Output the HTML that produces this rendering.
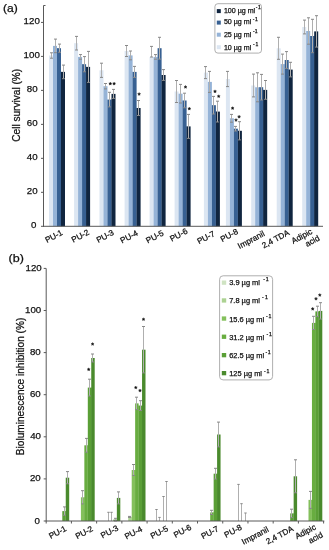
<!DOCTYPE html>
<html><head><meta charset="utf-8"><title>Figure</title>
<style>
html,body{margin:0;padding:0;background:#fff;}
body{width:329px;height:550px;overflow:hidden;}
svg{display:block;}
text{fill:#111;font-family:"Liberation Sans", Arial, sans-serif;stroke:#111;stroke-width:0.25px;}
</style></head>
<body>
<svg width="329" height="550" viewBox="0 0 329 550">
<rect x="0" y="0" width="329" height="550" fill="#fff"/>
<rect x="49" y="55.5" width="4" height="170.8" fill="#dce6f2"/>
<rect x="53" y="55.5" width="0.7" height="170.8" fill="#dce6f2"/>
<rect x="53" y="45.9" width="4" height="180.4" fill="#95b3d7"/>
<rect x="57" y="48.2" width="0.7" height="178.1" fill="#95b3d7"/>
<rect x="57" y="48.2" width="4" height="178.1" fill="#376092"/>
<rect x="61" y="71.9" width="0.7" height="154.4" fill="#376092"/>
<rect x="61" y="71.9" width="4" height="154.4" fill="#10253f"/>
<line x1="51.5" y1="52.8" x2="51.5" y2="58.2" stroke="#afafaf" stroke-width="1"/><line x1="50" y1="52.8" x2="53" y2="52.8" stroke="#888888" stroke-width="1"/><line x1="50" y1="58.2" x2="53" y2="58.2" stroke="#888888" stroke-width="1"/>
<line x1="55.5" y1="39.1" x2="55.5" y2="52.7" stroke="#afafaf" stroke-width="1"/><line x1="54" y1="39.1" x2="57" y2="39.1" stroke="#888888" stroke-width="1"/><line x1="54" y1="52.7" x2="57" y2="52.7" stroke="#888888" stroke-width="1"/>
<line x1="59.5" y1="44.1" x2="59.5" y2="52.3" stroke="#afafaf" stroke-width="1"/><line x1="58" y1="44.1" x2="61" y2="44.1" stroke="#888888" stroke-width="1"/><line x1="58" y1="52.3" x2="61" y2="52.3" stroke="#888888" stroke-width="1"/>
<line x1="63.5" y1="65.1" x2="63.5" y2="78.7" stroke="#afafaf" stroke-width="1"/><line x1="62" y1="65.1" x2="65" y2="65.1" stroke="#888888" stroke-width="1"/><line x1="62" y1="78.7" x2="65" y2="78.7" stroke="#888888" stroke-width="1"/>
<rect x="74.1" y="43.2" width="4" height="183.1" fill="#dce6f2"/>
<rect x="78.1" y="56.9" width="0.7" height="169.4" fill="#dce6f2"/>
<rect x="78.1" y="56.9" width="4" height="169.4" fill="#95b3d7"/>
<rect x="82.1" y="64.2" width="0.7" height="162.1" fill="#95b3d7"/>
<rect x="82.1" y="64.2" width="4" height="162.1" fill="#376092"/>
<rect x="86.1" y="66.9" width="0.7" height="159.4" fill="#376092"/>
<rect x="86.1" y="66.9" width="4" height="159.4" fill="#10253f"/>
<line x1="76.5" y1="36.4" x2="76.5" y2="50" stroke="#afafaf" stroke-width="1"/><line x1="75" y1="36.4" x2="78" y2="36.4" stroke="#888888" stroke-width="1"/><line x1="75" y1="50" x2="78" y2="50" stroke="#888888" stroke-width="1"/>
<line x1="80.5" y1="54.6" x2="80.5" y2="59.2" stroke="#afafaf" stroke-width="1"/><line x1="79" y1="54.6" x2="82" y2="54.6" stroke="#888888" stroke-width="1"/><line x1="79" y1="59.2" x2="82" y2="59.2" stroke="#888888" stroke-width="1"/>
<line x1="84.5" y1="56.6" x2="84.5" y2="71.8" stroke="#afafaf" stroke-width="1"/><line x1="83" y1="56.6" x2="86" y2="56.6" stroke="#888888" stroke-width="1"/><line x1="83" y1="71.8" x2="86" y2="71.8" stroke="#888888" stroke-width="1"/>
<line x1="88.5" y1="51.4" x2="88.5" y2="82.4" stroke="#afafaf" stroke-width="1"/><line x1="87" y1="51.4" x2="90" y2="51.4" stroke="#888888" stroke-width="1"/><line x1="87" y1="82.4" x2="90" y2="82.4" stroke="#888888" stroke-width="1"/>
<rect x="99.5" y="70.3" width="4" height="156" fill="#dce6f2"/>
<rect x="103.5" y="86.2" width="0.7" height="140.1" fill="#dce6f2"/>
<rect x="103.5" y="86.2" width="4" height="140.1" fill="#95b3d7"/>
<rect x="107.5" y="99.6" width="0.7" height="126.7" fill="#95b3d7"/>
<rect x="107.5" y="99.6" width="4" height="126.7" fill="#376092"/>
<rect x="111.5" y="99.6" width="0.7" height="126.7" fill="#376092"/>
<rect x="111.5" y="93.9" width="4" height="132.4" fill="#10253f"/>
<line x1="101.5" y1="63.2" x2="101.5" y2="77.4" stroke="#afafaf" stroke-width="1"/><line x1="100" y1="63.2" x2="103" y2="63.2" stroke="#888888" stroke-width="1"/><line x1="100" y1="77.4" x2="103" y2="77.4" stroke="#888888" stroke-width="1"/>
<line x1="105.5" y1="83.5" x2="105.5" y2="88.9" stroke="#afafaf" stroke-width="1"/><line x1="104" y1="83.5" x2="107" y2="83.5" stroke="#888888" stroke-width="1"/><line x1="104" y1="88.9" x2="107" y2="88.9" stroke="#888888" stroke-width="1"/>
<line x1="109.5" y1="92.3" x2="109.5" y2="106.9" stroke="#afafaf" stroke-width="1"/><line x1="108" y1="92.3" x2="111" y2="92.3" stroke="#888888" stroke-width="1"/><line x1="108" y1="106.9" x2="111" y2="106.9" stroke="#888888" stroke-width="1"/>
<line x1="113.5" y1="89.4" x2="113.5" y2="98.4" stroke="#afafaf" stroke-width="1"/><line x1="112" y1="89.4" x2="115" y2="89.4" stroke="#888888" stroke-width="1"/><line x1="112" y1="98.4" x2="115" y2="98.4" stroke="#888888" stroke-width="1"/>
<rect x="124.6" y="51" width="4" height="175.3" fill="#dce6f2"/>
<rect x="128.6" y="55.4" width="0.7" height="170.9" fill="#dce6f2"/>
<rect x="128.6" y="55.4" width="4" height="170.9" fill="#95b3d7"/>
<rect x="132.6" y="71.9" width="0.7" height="154.4" fill="#95b3d7"/>
<rect x="132.6" y="71.9" width="4" height="154.4" fill="#376092"/>
<rect x="136.6" y="108" width="0.7" height="118.3" fill="#376092"/>
<rect x="136.6" y="108" width="4" height="118.3" fill="#10253f"/>
<line x1="126.5" y1="45.5" x2="126.5" y2="56.5" stroke="#afafaf" stroke-width="1"/><line x1="125" y1="45.5" x2="128" y2="45.5" stroke="#888888" stroke-width="1"/><line x1="125" y1="56.5" x2="128" y2="56.5" stroke="#888888" stroke-width="1"/>
<line x1="130.5" y1="51" x2="130.5" y2="59.8" stroke="#afafaf" stroke-width="1"/><line x1="129" y1="51" x2="132" y2="51" stroke="#888888" stroke-width="1"/><line x1="129" y1="59.8" x2="132" y2="59.8" stroke="#888888" stroke-width="1"/>
<line x1="134.5" y1="66.4" x2="134.5" y2="77.4" stroke="#afafaf" stroke-width="1"/><line x1="133" y1="66.4" x2="136" y2="66.4" stroke="#888888" stroke-width="1"/><line x1="133" y1="77.4" x2="136" y2="77.4" stroke="#888888" stroke-width="1"/>
<line x1="138.5" y1="100.5" x2="138.5" y2="115.5" stroke="#afafaf" stroke-width="1"/><line x1="137" y1="100.5" x2="140" y2="100.5" stroke="#888888" stroke-width="1"/><line x1="137" y1="115.5" x2="140" y2="115.5" stroke="#888888" stroke-width="1"/>
<rect x="149.6" y="57" width="4" height="169.3" fill="#dce6f2"/>
<rect x="153.6" y="57" width="0.7" height="169.3" fill="#dce6f2"/>
<rect x="153.6" y="56.9" width="4" height="169.4" fill="#95b3d7"/>
<rect x="157.6" y="56.9" width="0.7" height="169.4" fill="#95b3d7"/>
<rect x="157.6" y="48.2" width="4" height="178.1" fill="#376092"/>
<rect x="161.6" y="75" width="0.7" height="151.3" fill="#376092"/>
<rect x="161.6" y="75" width="4" height="151.3" fill="#10253f"/>
<line x1="151.5" y1="46.4" x2="151.5" y2="57" stroke="#afafaf" stroke-width="1"/><line x1="150" y1="46.4" x2="153" y2="46.4" stroke="#888888" stroke-width="1"/><line x1="150" y1="57" x2="153" y2="57" stroke="#888888" stroke-width="1"/>
<line x1="155.5" y1="54.6" x2="155.5" y2="59.2" stroke="#afafaf" stroke-width="1"/><line x1="154" y1="54.6" x2="157" y2="54.6" stroke="#888888" stroke-width="1"/><line x1="154" y1="59.2" x2="157" y2="59.2" stroke="#888888" stroke-width="1"/>
<line x1="159.5" y1="37.3" x2="159.5" y2="59.1" stroke="#afafaf" stroke-width="1"/><line x1="158" y1="37.3" x2="161" y2="37.3" stroke="#888888" stroke-width="1"/><line x1="158" y1="59.1" x2="161" y2="59.1" stroke="#888888" stroke-width="1"/>
<line x1="163.5" y1="69.6" x2="163.5" y2="80.4" stroke="#afafaf" stroke-width="1"/><line x1="162" y1="69.6" x2="165" y2="69.6" stroke="#888888" stroke-width="1"/><line x1="162" y1="80.4" x2="165" y2="80.4" stroke="#888888" stroke-width="1"/>
<rect x="174.6" y="91.5" width="4" height="134.8" fill="#dce6f2"/>
<rect x="178.6" y="93.7" width="0.7" height="132.6" fill="#dce6f2"/>
<rect x="178.6" y="93.7" width="4" height="132.6" fill="#95b3d7"/>
<rect x="182.6" y="100.5" width="0.7" height="125.8" fill="#95b3d7"/>
<rect x="182.6" y="100.5" width="4" height="125.8" fill="#376092"/>
<rect x="186.6" y="126.4" width="0.7" height="99.9" fill="#376092"/>
<rect x="186.6" y="126.4" width="4" height="99.9" fill="#10253f"/>
<line x1="176.5" y1="80.5" x2="176.5" y2="102.5" stroke="#afafaf" stroke-width="1"/><line x1="175" y1="80.5" x2="178" y2="80.5" stroke="#888888" stroke-width="1"/><line x1="175" y1="102.5" x2="178" y2="102.5" stroke="#888888" stroke-width="1"/>
<line x1="180.5" y1="84.4" x2="180.5" y2="103" stroke="#afafaf" stroke-width="1"/><line x1="179" y1="84.4" x2="182" y2="84.4" stroke="#888888" stroke-width="1"/><line x1="179" y1="103" x2="182" y2="103" stroke="#888888" stroke-width="1"/>
<line x1="184.5" y1="93.2" x2="184.5" y2="107.8" stroke="#afafaf" stroke-width="1"/><line x1="183" y1="93.2" x2="186" y2="93.2" stroke="#888888" stroke-width="1"/><line x1="183" y1="107.8" x2="186" y2="107.8" stroke="#888888" stroke-width="1"/>
<line x1="188.5" y1="114.4" x2="188.5" y2="138.4" stroke="#afafaf" stroke-width="1"/><line x1="187" y1="114.4" x2="190" y2="114.4" stroke="#888888" stroke-width="1"/><line x1="187" y1="138.4" x2="190" y2="138.4" stroke="#888888" stroke-width="1"/>
<rect x="203.9" y="72.6" width="4" height="153.7" fill="#dce6f2"/>
<rect x="207.9" y="81.9" width="0.7" height="144.4" fill="#dce6f2"/>
<rect x="207.9" y="81.9" width="4" height="144.4" fill="#95b3d7"/>
<rect x="211.9" y="105.2" width="0.7" height="121.1" fill="#95b3d7"/>
<rect x="211.9" y="105.2" width="4" height="121.1" fill="#376092"/>
<rect x="215.9" y="111.6" width="0.7" height="114.7" fill="#376092"/>
<rect x="215.9" y="111.6" width="4" height="114.7" fill="#10253f"/>
<line x1="205.5" y1="66.6" x2="205.5" y2="78.6" stroke="#afafaf" stroke-width="1"/><line x1="204" y1="66.6" x2="207" y2="66.6" stroke="#888888" stroke-width="1"/><line x1="204" y1="78.6" x2="207" y2="78.6" stroke="#888888" stroke-width="1"/>
<line x1="209.5" y1="71.4" x2="209.5" y2="92.4" stroke="#afafaf" stroke-width="1"/><line x1="208" y1="71.4" x2="211" y2="71.4" stroke="#888888" stroke-width="1"/><line x1="208" y1="92.4" x2="211" y2="92.4" stroke="#888888" stroke-width="1"/>
<line x1="213.5" y1="96.4" x2="213.5" y2="114" stroke="#afafaf" stroke-width="1"/><line x1="212" y1="96.4" x2="215" y2="96.4" stroke="#888888" stroke-width="1"/><line x1="212" y1="114" x2="215" y2="114" stroke="#888888" stroke-width="1"/>
<line x1="217.5" y1="101.2" x2="217.5" y2="122" stroke="#afafaf" stroke-width="1"/><line x1="216" y1="101.2" x2="219" y2="101.2" stroke="#888888" stroke-width="1"/><line x1="216" y1="122" x2="219" y2="122" stroke="#888888" stroke-width="1"/>
<rect x="225.9" y="79" width="4" height="147.3" fill="#dce6f2"/>
<rect x="229.9" y="118.3" width="0.7" height="108" fill="#dce6f2"/>
<rect x="229.9" y="118.3" width="4" height="108" fill="#95b3d7"/>
<rect x="233.9" y="128.7" width="0.7" height="97.6" fill="#95b3d7"/>
<rect x="233.9" y="128.7" width="4" height="97.6" fill="#376092"/>
<rect x="237.9" y="130.8" width="0.7" height="95.5" fill="#376092"/>
<rect x="237.9" y="130.8" width="4" height="95.5" fill="#10253f"/>
<line x1="227.5" y1="71.4" x2="227.5" y2="86.6" stroke="#afafaf" stroke-width="1"/><line x1="226" y1="71.4" x2="229" y2="71.4" stroke="#888888" stroke-width="1"/><line x1="226" y1="86.6" x2="229" y2="86.6" stroke="#888888" stroke-width="1"/>
<line x1="231.5" y1="114.4" x2="231.5" y2="122.2" stroke="#afafaf" stroke-width="1"/><line x1="230" y1="114.4" x2="233" y2="114.4" stroke="#888888" stroke-width="1"/><line x1="230" y1="122.2" x2="233" y2="122.2" stroke="#888888" stroke-width="1"/>
<line x1="235.5" y1="126.4" x2="235.5" y2="131" stroke="#afafaf" stroke-width="1"/><line x1="234" y1="126.4" x2="237" y2="126.4" stroke="#888888" stroke-width="1"/><line x1="234" y1="131" x2="237" y2="131" stroke="#888888" stroke-width="1"/>
<line x1="239.5" y1="121.7" x2="239.5" y2="139.9" stroke="#afafaf" stroke-width="1"/><line x1="238" y1="121.7" x2="241" y2="121.7" stroke="#888888" stroke-width="1"/><line x1="238" y1="139.9" x2="241" y2="139.9" stroke="#888888" stroke-width="1"/>
<rect x="251.2" y="85.5" width="4" height="140.8" fill="#dce6f2"/>
<rect x="255.2" y="87.3" width="0.7" height="139" fill="#dce6f2"/>
<rect x="255.2" y="87.3" width="4" height="139" fill="#95b3d7"/>
<rect x="259.2" y="87.3" width="0.7" height="139" fill="#95b3d7"/>
<rect x="259.2" y="87.2" width="4" height="139.1" fill="#376092"/>
<rect x="263.2" y="89.9" width="0.7" height="136.4" fill="#376092"/>
<rect x="263.2" y="89.9" width="4" height="136.4" fill="#10253f"/>
<line x1="253.5" y1="74.1" x2="253.5" y2="96.9" stroke="#afafaf" stroke-width="1"/><line x1="252" y1="74.1" x2="255" y2="74.1" stroke="#888888" stroke-width="1"/><line x1="252" y1="96.9" x2="255" y2="96.9" stroke="#888888" stroke-width="1"/>
<line x1="257.5" y1="72.8" x2="257.5" y2="101.8" stroke="#afafaf" stroke-width="1"/><line x1="256" y1="72.8" x2="259" y2="72.8" stroke="#888888" stroke-width="1"/><line x1="256" y1="101.8" x2="259" y2="101.8" stroke="#888888" stroke-width="1"/>
<line x1="261.5" y1="74.4" x2="261.5" y2="100" stroke="#afafaf" stroke-width="1"/><line x1="260" y1="74.4" x2="263" y2="74.4" stroke="#888888" stroke-width="1"/><line x1="260" y1="100" x2="263" y2="100" stroke="#888888" stroke-width="1"/>
<line x1="265.5" y1="80.5" x2="265.5" y2="99.3" stroke="#afafaf" stroke-width="1"/><line x1="264" y1="80.5" x2="267" y2="80.5" stroke="#888888" stroke-width="1"/><line x1="264" y1="99.3" x2="267" y2="99.3" stroke="#888888" stroke-width="1"/>
<rect x="276.7" y="48.3" width="4" height="178" fill="#dce6f2"/>
<rect x="280.7" y="64.1" width="0.7" height="162.2" fill="#dce6f2"/>
<rect x="280.7" y="64.1" width="4" height="162.2" fill="#95b3d7"/>
<rect x="284.7" y="64.1" width="0.7" height="162.2" fill="#95b3d7"/>
<rect x="284.7" y="60" width="4" height="166.3" fill="#376092"/>
<rect x="288.7" y="69.6" width="0.7" height="156.7" fill="#376092"/>
<rect x="288.7" y="69.6" width="4" height="156.7" fill="#10253f"/>
<line x1="278.5" y1="37.3" x2="278.5" y2="59.3" stroke="#afafaf" stroke-width="1"/><line x1="277" y1="37.3" x2="280" y2="37.3" stroke="#888888" stroke-width="1"/><line x1="277" y1="59.3" x2="280" y2="59.3" stroke="#888888" stroke-width="1"/>
<line x1="282.5" y1="54.1" x2="282.5" y2="74.1" stroke="#afafaf" stroke-width="1"/><line x1="281" y1="54.1" x2="284" y2="54.1" stroke="#888888" stroke-width="1"/><line x1="281" y1="74.1" x2="284" y2="74.1" stroke="#888888" stroke-width="1"/>
<line x1="286.5" y1="51.6" x2="286.5" y2="68.4" stroke="#afafaf" stroke-width="1"/><line x1="285" y1="51.6" x2="288" y2="51.6" stroke="#888888" stroke-width="1"/><line x1="285" y1="68.4" x2="288" y2="68.4" stroke="#888888" stroke-width="1"/>
<line x1="290.5" y1="62.3" x2="290.5" y2="76.9" stroke="#afafaf" stroke-width="1"/><line x1="289" y1="62.3" x2="292" y2="62.3" stroke="#888888" stroke-width="1"/><line x1="289" y1="76.9" x2="292" y2="76.9" stroke="#888888" stroke-width="1"/>
<rect x="302.2" y="27" width="4" height="199.3" fill="#dce6f2"/>
<rect x="306.2" y="31" width="0.7" height="195.3" fill="#dce6f2"/>
<rect x="306.2" y="31" width="4" height="195.3" fill="#95b3d7"/>
<rect x="310.2" y="36" width="0.7" height="190.3" fill="#95b3d7"/>
<rect x="310.2" y="36" width="4" height="190.3" fill="#376092"/>
<rect x="314.2" y="36" width="0.7" height="190.3" fill="#376092"/>
<rect x="314.2" y="31.4" width="4" height="194.9" fill="#10253f"/>
<line x1="304.5" y1="20.1" x2="304.5" y2="33.9" stroke="#afafaf" stroke-width="1"/><line x1="303" y1="20.1" x2="306" y2="20.1" stroke="#888888" stroke-width="1"/><line x1="303" y1="33.9" x2="306" y2="33.9" stroke="#888888" stroke-width="1"/>
<line x1="308.5" y1="17.8" x2="308.5" y2="44.2" stroke="#afafaf" stroke-width="1"/><line x1="307" y1="17.8" x2="310" y2="17.8" stroke="#888888" stroke-width="1"/><line x1="307" y1="44.2" x2="310" y2="44.2" stroke="#888888" stroke-width="1"/>
<line x1="312.5" y1="19.3" x2="312.5" y2="52.7" stroke="#afafaf" stroke-width="1"/><line x1="311" y1="19.3" x2="314" y2="19.3" stroke="#888888" stroke-width="1"/><line x1="311" y1="52.7" x2="314" y2="52.7" stroke="#888888" stroke-width="1"/>
<line x1="316.5" y1="15.7" x2="316.5" y2="47.1" stroke="#afafaf" stroke-width="1"/><line x1="315" y1="15.7" x2="318" y2="15.7" stroke="#888888" stroke-width="1"/><line x1="315" y1="47.1" x2="318" y2="47.1" stroke="#888888" stroke-width="1"/>
<polygon points="110.3,82.15 110.74,83.09 111.77,83.22 111.01,83.93 111.21,84.95 110.3,84.45 109.39,84.95 109.59,83.93 108.83,83.22 109.86,83.09" fill="#111" stroke="#111" stroke-width="0.4" stroke-linejoin="round"/>
<polygon points="114.1,82.15 114.54,83.09 115.57,83.22 114.81,83.93 115.01,84.95 114.1,84.45 113.19,84.95 113.39,83.93 112.63,83.22 113.66,83.09" fill="#111" stroke="#111" stroke-width="0.4" stroke-linejoin="round"/>
<polygon points="139.1,92.55 139.54,93.49 140.57,93.62 139.81,94.33 140.01,95.35 139.1,94.85 138.19,95.35 138.39,94.33 137.63,93.62 138.66,93.49" fill="#111" stroke="#111" stroke-width="0.4" stroke-linejoin="round"/>
<polygon points="185.5,85.45 185.94,86.39 186.97,86.52 186.21,87.23 186.41,88.25 185.5,87.75 184.59,88.25 184.79,87.23 184.03,86.52 185.06,86.39" fill="#111" stroke="#111" stroke-width="0.4" stroke-linejoin="round"/>
<polygon points="189.3,107.15 189.74,108.09 190.77,108.22 190.01,108.93 190.21,109.95 189.3,109.45 188.39,109.95 188.59,108.93 187.83,108.22 188.86,108.09" fill="#111" stroke="#111" stroke-width="0.4" stroke-linejoin="round"/>
<polygon points="215,89.85 215.44,90.79 216.47,90.92 215.71,91.63 215.91,92.65 215,92.15 214.09,92.65 214.29,91.63 213.53,90.92 214.56,90.79" fill="#111" stroke="#111" stroke-width="0.4" stroke-linejoin="round"/>
<polygon points="218.7,94.75 219.14,95.69 220.17,95.82 219.41,96.53 219.61,97.55 218.7,97.05 217.79,97.55 217.99,96.53 217.23,95.82 218.26,95.69" fill="#111" stroke="#111" stroke-width="0.4" stroke-linejoin="round"/>
<polygon points="232.6,106.65 233.04,107.59 234.07,107.72 233.31,108.43 233.51,109.45 232.6,108.95 231.69,109.45 231.89,108.43 231.13,107.72 232.16,107.59" fill="#111" stroke="#111" stroke-width="0.4" stroke-linejoin="round"/>
<polygon points="236,118.55 236.44,119.49 237.47,119.62 236.71,120.33 236.91,121.35 236,120.85 235.09,121.35 235.29,120.33 234.53,119.62 235.56,119.49" fill="#111" stroke="#111" stroke-width="0.4" stroke-linejoin="round"/>
<polygon points="239.1,115.25 239.54,116.19 240.57,116.32 239.81,117.03 240.01,118.05 239.1,117.55 238.19,118.05 238.39,117.03 237.63,116.32 238.66,116.19" fill="#111" stroke="#111" stroke-width="0.4" stroke-linejoin="round"/>
<line x1="43.5" y1="5.5" x2="43.5" y2="226.8" stroke="#595959" stroke-width="1"/>
<line x1="43.5" y1="5.5" x2="45.5" y2="5.5" stroke="#595959" stroke-width="1"/>
<line x1="43" y1="226.3" x2="323" y2="226.3" stroke="#595959" stroke-width="1"/>
<line x1="41" y1="226.3" x2="43.5" y2="226.3" stroke="#595959" stroke-width="1"/>
<text x="33.7" y="228.15" font-size="9.7" text-anchor="middle">0</text>
<line x1="41" y1="192.32" x2="43.5" y2="192.32" stroke="#595959" stroke-width="1"/>
<text x="32.2" y="194.17" font-size="9.7" text-anchor="middle">20</text>
<line x1="41" y1="158.34" x2="43.5" y2="158.34" stroke="#595959" stroke-width="1"/>
<text x="32.2" y="160.19" font-size="9.7" text-anchor="middle">40</text>
<line x1="41" y1="124.36" x2="43.5" y2="124.36" stroke="#595959" stroke-width="1"/>
<text x="32.2" y="126.21" font-size="9.7" text-anchor="middle">60</text>
<line x1="41" y1="90.38" x2="43.5" y2="90.38" stroke="#595959" stroke-width="1"/>
<text x="32.2" y="92.23" font-size="9.7" text-anchor="middle">80</text>
<line x1="41" y1="56.4" x2="43.5" y2="56.4" stroke="#595959" stroke-width="1"/>
<text x="31.7" y="58.25" font-size="9.7" text-anchor="middle">100</text>
<line x1="41" y1="22.42" x2="43.5" y2="22.42" stroke="#595959" stroke-width="1"/>
<text x="31.7" y="24.27" font-size="9.7" text-anchor="middle">120</text>
<text x="63.4" y="234.25" font-size="8.2" text-anchor="end" transform="rotate(-28 63.4 234.25)">PU-1</text>
<text x="89.8" y="234" font-size="8.2" text-anchor="end" transform="rotate(-28 89.8 234)">PU-2</text>
<text x="114.65" y="234.25" font-size="8.2" text-anchor="end" transform="rotate(-28 114.65 234.25)">PU-3</text>
<text x="138.6" y="234.75" font-size="8.2" text-anchor="end" transform="rotate(-28 138.6 234.75)">PU-4</text>
<text x="164.3" y="234.75" font-size="8.2" text-anchor="end" transform="rotate(-28 164.3 234.75)">PU-5</text>
<text x="188.2" y="232.95" font-size="8.2" text-anchor="end" transform="rotate(-28 188.2 232.95)">PU-6</text>
<text x="215.5" y="235.55" font-size="8.2" text-anchor="end" transform="rotate(-28 215.5 235.55)">PU-7</text>
<text x="238.75" y="233.4" font-size="8.2" text-anchor="end" transform="rotate(-28 238.75 233.4)">PU-8</text>
<text x="265.35" y="235.4" font-size="8.2" text-anchor="end" transform="rotate(-28 265.35 235.4)">Impranil</text>
<text x="290.1" y="234.4" font-size="8.2" text-anchor="end" transform="rotate(-28 290.1 234.4)">2,4 TDA</text>
<text x="312.9" y="233.45" font-size="8.2" text-anchor="end" transform="rotate(-28 312.9 233.45)">Adipic</text>
<text x="320.25" y="239.85" font-size="8.2" text-anchor="end" transform="rotate(-28 320.25 239.85)">acid</text>
<text x="3.1" y="12.2" font-size="10.8" textLength="14.8" lengthAdjust="spacingAndGlyphs">(a)</text>
<text transform="translate(19.6 105.3) rotate(-90)" font-size="10.1" text-anchor="middle">Cell survival (%)</text>
<rect x="214.9" y="3.7" width="46.6" height="49.4" rx="3" ry="3" fill="#fff" stroke="#a6a6a6" stroke-width="0.9"/>
<rect x="216.8" y="9.1" width="4" height="4" fill="#10253f"/>
<text x="223.9" y="12.9" font-size="7.1">100 µg ml</text>
<text x="256.6" y="9.1" font-size="5" text-anchor="middle">-</text>
<text x="259.3" y="9.1" font-size="5" text-anchor="middle">1</text>
<rect x="216.8" y="20.6" width="4" height="4" fill="#376092"/>
<text x="223.9" y="24.2" font-size="7.1">50 µg ml</text>
<text x="253.7" y="20.7" font-size="5" text-anchor="middle">-</text>
<text x="256.4" y="20.7" font-size="5" text-anchor="middle">1</text>
<rect x="216.8" y="32.7" width="4" height="4" fill="#95b3d7"/>
<text x="223.9" y="36.5" font-size="7.1">25 µg ml</text>
<text x="253.9" y="33.3" font-size="5" text-anchor="middle">-</text>
<text x="256.1" y="33.3" font-size="5" text-anchor="middle">1</text>
<rect x="216.8" y="45.2" width="4" height="4" fill="#dce6f2"/>
<text x="223.9" y="49.5" font-size="7.1">10 µg ml</text>
<text x="253.9" y="46.1" font-size="5" text-anchor="middle">-</text>
<text x="256.9" y="46.1" font-size="5" text-anchor="middle">1</text>
<rect x="62.3" y="511.1" width="3.45" height="9.9" fill="#5a9f36"/>
<rect x="65.75" y="511.1" width="0.7" height="9.9" fill="#5a9f36"/>
<rect x="65.75" y="477.7" width="3.45" height="43.3" fill="#4a8a2d"/>
<line x1="64.5" y1="506.9" x2="64.5" y2="515.3" stroke="#afafaf" stroke-width="1"/><line x1="63" y1="506.9" x2="66" y2="506.9" stroke="#888888" stroke-width="1"/><line x1="63" y1="515.3" x2="66" y2="515.3" stroke="#888888" stroke-width="1"/>
<line x1="67.5" y1="471.6" x2="67.5" y2="483.8" stroke="#afafaf" stroke-width="1"/><line x1="66" y1="471.6" x2="69" y2="471.6" stroke="#888888" stroke-width="1"/><line x1="66" y1="483.8" x2="69" y2="483.8" stroke="#888888" stroke-width="1"/>
<rect x="80.9" y="497.3" width="3.45" height="23.7" fill="#84c05c"/>
<rect x="84.35" y="497.3" width="0.7" height="23.7" fill="#84c05c"/>
<rect x="84.35" y="445.3" width="3.45" height="75.7" fill="#68ad40"/>
<rect x="87.8" y="445.3" width="0.7" height="75.7" fill="#68ad40"/>
<rect x="87.8" y="387.6" width="3.45" height="133.4" fill="#5a9f36"/>
<rect x="91.25" y="387.6" width="0.7" height="133.4" fill="#5a9f36"/>
<rect x="91.25" y="358" width="3.45" height="163" fill="#4a8a2d"/>
<line x1="82.5" y1="490.7" x2="82.5" y2="503.9" stroke="#afafaf" stroke-width="1"/><line x1="81" y1="490.7" x2="84" y2="490.7" stroke="#888888" stroke-width="1"/><line x1="81" y1="503.9" x2="84" y2="503.9" stroke="#888888" stroke-width="1"/>
<line x1="86.5" y1="438.4" x2="86.5" y2="452.2" stroke="#afafaf" stroke-width="1"/><line x1="85" y1="438.4" x2="88" y2="438.4" stroke="#888888" stroke-width="1"/><line x1="85" y1="452.2" x2="88" y2="452.2" stroke="#888888" stroke-width="1"/>
<line x1="89.5" y1="379.2" x2="89.5" y2="396" stroke="#afafaf" stroke-width="1"/><line x1="88" y1="379.2" x2="91" y2="379.2" stroke="#888888" stroke-width="1"/><line x1="88" y1="396" x2="91" y2="396" stroke="#888888" stroke-width="1"/>
<line x1="92.5" y1="354" x2="92.5" y2="362" stroke="#afafaf" stroke-width="1"/><line x1="91" y1="354" x2="94" y2="354" stroke="#888888" stroke-width="1"/><line x1="91" y1="362" x2="94" y2="362" stroke="#888888" stroke-width="1"/>
<rect x="113.4" y="519.6" width="3.45" height="1.4" fill="#5a9f36"/>
<rect x="116.85" y="519.6" width="0.7" height="1.4" fill="#5a9f36"/>
<rect x="116.85" y="497.9" width="3.45" height="23.1" fill="#4a8a2d"/>
<line x1="115.5" y1="518.3" x2="115.5" y2="520.9" stroke="#afafaf" stroke-width="1"/><line x1="114" y1="518.3" x2="117" y2="518.3" stroke="#888888" stroke-width="1"/><line x1="114" y1="520.9" x2="117" y2="520.9" stroke="#888888" stroke-width="1"/>
<line x1="118.5" y1="491.9" x2="118.5" y2="503.9" stroke="#afafaf" stroke-width="1"/><line x1="117" y1="491.9" x2="120" y2="491.9" stroke="#888888" stroke-width="1"/><line x1="117" y1="503.9" x2="120" y2="503.9" stroke="#888888" stroke-width="1"/>
<rect x="128.25" y="516.9" width="3.45" height="4.1" fill="#acd292"/>
<rect x="131.7" y="516.9" width="0.7" height="4.1" fill="#acd292"/>
<rect x="131.7" y="470" width="3.45" height="51" fill="#84c05c"/>
<rect x="135.15" y="470" width="0.7" height="51" fill="#84c05c"/>
<rect x="135.15" y="403.4" width="3.45" height="117.6" fill="#68ad40"/>
<rect x="138.6" y="405.6" width="0.7" height="115.4" fill="#68ad40"/>
<rect x="138.6" y="405.6" width="3.45" height="115.4" fill="#5a9f36"/>
<rect x="142.05" y="405.6" width="0.7" height="115.4" fill="#5a9f36"/>
<rect x="142.05" y="349.7" width="3.45" height="171.3" fill="#4a8a2d"/>
<line x1="129.5" y1="516.4" x2="129.5" y2="517.4" stroke="#afafaf" stroke-width="1"/><line x1="128" y1="516.4" x2="131" y2="516.4" stroke="#888888" stroke-width="1"/><line x1="128" y1="517.4" x2="131" y2="517.4" stroke="#888888" stroke-width="1"/>
<line x1="133.5" y1="464.5" x2="133.5" y2="475.5" stroke="#afafaf" stroke-width="1"/><line x1="132" y1="464.5" x2="135" y2="464.5" stroke="#888888" stroke-width="1"/><line x1="132" y1="475.5" x2="135" y2="475.5" stroke="#888888" stroke-width="1"/>
<line x1="136.5" y1="397.2" x2="136.5" y2="409.6" stroke="#afafaf" stroke-width="1"/><line x1="135" y1="397.2" x2="138" y2="397.2" stroke="#888888" stroke-width="1"/><line x1="135" y1="409.6" x2="138" y2="409.6" stroke="#888888" stroke-width="1"/>
<line x1="140.5" y1="400.7" x2="140.5" y2="410.5" stroke="#afafaf" stroke-width="1"/><line x1="139" y1="400.7" x2="142" y2="400.7" stroke="#888888" stroke-width="1"/><line x1="139" y1="410.5" x2="142" y2="410.5" stroke="#888888" stroke-width="1"/>
<line x1="143.5" y1="326.5" x2="143.5" y2="372.9" stroke="#afafaf" stroke-width="1"/><line x1="142" y1="326.5" x2="145" y2="326.5" stroke="#888888" stroke-width="1"/><line x1="142" y1="372.9" x2="145" y2="372.9" stroke="#888888" stroke-width="1"/>
<rect x="210.2" y="512.4" width="3.45" height="8.6" fill="#68ad40"/>
<rect x="213.65" y="512.4" width="0.7" height="8.6" fill="#68ad40"/>
<rect x="213.65" y="473.7" width="3.45" height="47.3" fill="#5a9f36"/>
<rect x="217.1" y="473.7" width="0.7" height="47.3" fill="#5a9f36"/>
<rect x="217.1" y="434.5" width="3.45" height="86.5" fill="#4a8a2d"/>
<line x1="211.5" y1="510.3" x2="211.5" y2="514.5" stroke="#afafaf" stroke-width="1"/><line x1="210" y1="510.3" x2="213" y2="510.3" stroke="#888888" stroke-width="1"/><line x1="210" y1="514.5" x2="213" y2="514.5" stroke="#888888" stroke-width="1"/>
<line x1="215.5" y1="468.3" x2="215.5" y2="479.1" stroke="#afafaf" stroke-width="1"/><line x1="214" y1="468.3" x2="217" y2="468.3" stroke="#888888" stroke-width="1"/><line x1="214" y1="479.1" x2="217" y2="479.1" stroke="#888888" stroke-width="1"/>
<line x1="218.5" y1="422.1" x2="218.5" y2="446.9" stroke="#afafaf" stroke-width="1"/><line x1="217" y1="422.1" x2="220" y2="422.1" stroke="#888888" stroke-width="1"/><line x1="217" y1="446.9" x2="220" y2="446.9" stroke="#888888" stroke-width="1"/>
<rect x="290.2" y="513.4" width="3.45" height="7.6" fill="#5a9f36"/>
<rect x="293.65" y="513.4" width="0.7" height="7.6" fill="#5a9f36"/>
<rect x="293.65" y="476.3" width="3.45" height="44.7" fill="#4a8a2d"/>
<line x1="291.5" y1="509.2" x2="291.5" y2="517.6" stroke="#afafaf" stroke-width="1"/><line x1="290" y1="509.2" x2="293" y2="509.2" stroke="#888888" stroke-width="1"/><line x1="290" y1="517.6" x2="293" y2="517.6" stroke="#888888" stroke-width="1"/>
<line x1="295.5" y1="459.8" x2="295.5" y2="492.8" stroke="#afafaf" stroke-width="1"/><line x1="294" y1="459.8" x2="297" y2="459.8" stroke="#888888" stroke-width="1"/><line x1="294" y1="492.8" x2="297" y2="492.8" stroke="#888888" stroke-width="1"/>
<rect x="308.5" y="499.9" width="3.45" height="21.1" fill="#84c05c"/>
<rect x="311.95" y="499.9" width="0.7" height="21.1" fill="#84c05c"/>
<rect x="311.95" y="322.9" width="3.45" height="198.1" fill="#68ad40"/>
<rect x="315.4" y="322.9" width="0.7" height="198.1" fill="#68ad40"/>
<rect x="315.4" y="311.4" width="3.45" height="209.6" fill="#5a9f36"/>
<rect x="318.85" y="311.4" width="0.7" height="209.6" fill="#5a9f36"/>
<rect x="318.85" y="310.9" width="3.45" height="210.1" fill="#4a8a2d"/>
<line x1="310.5" y1="491.4" x2="310.5" y2="508.4" stroke="#afafaf" stroke-width="1"/><line x1="309" y1="491.4" x2="312" y2="491.4" stroke="#888888" stroke-width="1"/><line x1="309" y1="508.4" x2="312" y2="508.4" stroke="#888888" stroke-width="1"/>
<line x1="313.5" y1="316.3" x2="313.5" y2="329.5" stroke="#afafaf" stroke-width="1"/><line x1="312" y1="316.3" x2="315" y2="316.3" stroke="#888888" stroke-width="1"/><line x1="312" y1="329.5" x2="315" y2="329.5" stroke="#888888" stroke-width="1"/>
<line x1="317.5" y1="306.2" x2="317.5" y2="316.6" stroke="#afafaf" stroke-width="1"/><line x1="316" y1="306.2" x2="319" y2="306.2" stroke="#888888" stroke-width="1"/><line x1="316" y1="316.6" x2="319" y2="316.6" stroke="#888888" stroke-width="1"/>
<line x1="320.5" y1="302.7" x2="320.5" y2="319.1" stroke="#afafaf" stroke-width="1"/><line x1="319" y1="302.7" x2="322" y2="302.7" stroke="#888888" stroke-width="1"/><line x1="319" y1="319.1" x2="322" y2="319.1" stroke="#888888" stroke-width="1"/>
<line x1="108.5" y1="512.3" x2="108.5" y2="521" stroke="#afafaf" stroke-width="1"/>
<line x1="107.3" y1="512.3" x2="109.7" y2="512.3" stroke="#888888" stroke-width="1"/>
<line x1="111.5" y1="512.3" x2="111.5" y2="521" stroke="#afafaf" stroke-width="1"/>
<line x1="110.3" y1="512.3" x2="112.7" y2="512.3" stroke="#888888" stroke-width="1"/>
<line x1="156.5" y1="509.5" x2="156.5" y2="521" stroke="#afafaf" stroke-width="1"/>
<line x1="155.3" y1="509.5" x2="157.7" y2="509.5" stroke="#888888" stroke-width="1"/>
<line x1="159.5" y1="517.4" x2="159.5" y2="521" stroke="#afafaf" stroke-width="1"/>
<line x1="158.3" y1="517.4" x2="160.7" y2="517.4" stroke="#888888" stroke-width="1"/>
<line x1="163.5" y1="496.5" x2="163.5" y2="521" stroke="#afafaf" stroke-width="1"/>
<line x1="162.3" y1="496.5" x2="164.7" y2="496.5" stroke="#888888" stroke-width="1"/>
<line x1="166.5" y1="481.5" x2="166.5" y2="521" stroke="#afafaf" stroke-width="1"/>
<line x1="165.3" y1="481.5" x2="167.7" y2="481.5" stroke="#888888" stroke-width="1"/>
<line x1="238.5" y1="484.4" x2="238.5" y2="521" stroke="#afafaf" stroke-width="1"/>
<line x1="237.3" y1="484.4" x2="239.7" y2="484.4" stroke="#888888" stroke-width="1"/>
<line x1="241.5" y1="503.7" x2="241.5" y2="521" stroke="#afafaf" stroke-width="1"/>
<line x1="240.3" y1="503.7" x2="242.7" y2="503.7" stroke="#888888" stroke-width="1"/>
<line x1="245.5" y1="513" x2="245.5" y2="521" stroke="#afafaf" stroke-width="1"/>
<line x1="244.3" y1="513" x2="246.7" y2="513" stroke="#888888" stroke-width="1"/>
<polygon points="88.7,367.85 89.14,368.79 90.17,368.92 89.41,369.63 89.61,370.65 88.7,370.15 87.79,370.65 87.99,369.63 87.23,368.92 88.26,368.79" fill="#111" stroke="#111" stroke-width="0.4" stroke-linejoin="round"/>
<polygon points="92.6,342.55 93.04,343.49 94.07,343.62 93.31,344.33 93.51,345.35 92.6,344.85 91.69,345.35 91.89,344.33 91.13,343.62 92.16,343.49" fill="#111" stroke="#111" stroke-width="0.4" stroke-linejoin="round"/>
<polygon points="135.8,386.05 136.24,386.99 137.27,387.12 136.51,387.83 136.71,388.85 135.8,388.35 134.89,388.85 135.09,387.83 134.33,387.12 135.36,386.99" fill="#111" stroke="#111" stroke-width="0.4" stroke-linejoin="round"/>
<polygon points="140,389.05 140.44,389.99 141.47,390.12 140.71,390.83 140.91,391.85 140,391.35 139.09,391.85 139.29,390.83 138.53,390.12 139.56,389.99" fill="#111" stroke="#111" stroke-width="0.4" stroke-linejoin="round"/>
<polygon points="143.5,317.75 143.94,318.69 144.97,318.82 144.21,319.53 144.41,320.55 143.5,320.05 142.59,320.55 142.79,319.53 142.03,318.82 143.06,318.69" fill="#111" stroke="#111" stroke-width="0.4" stroke-linejoin="round"/>
<polygon points="312.7,307.35 313.14,308.29 314.17,308.42 313.41,309.13 313.61,310.15 312.7,309.65 311.79,310.15 311.99,309.13 311.23,308.42 312.26,308.29" fill="#111" stroke="#111" stroke-width="0.4" stroke-linejoin="round"/>
<polygon points="316,297.25 316.44,298.19 317.47,298.32 316.71,299.03 316.91,300.05 316,299.55 315.09,300.05 315.29,299.03 314.53,298.32 315.56,298.19" fill="#111" stroke="#111" stroke-width="0.4" stroke-linejoin="round"/>
<polygon points="319.8,293.55 320.24,294.49 321.27,294.62 320.51,295.33 320.71,296.35 319.8,295.85 318.89,296.35 319.09,295.33 318.33,294.62 319.36,294.49" fill="#111" stroke="#111" stroke-width="0.4" stroke-linejoin="round"/>
<line x1="46.2" y1="268.5" x2="46.2" y2="523.5" stroke="#595959" stroke-width="1"/>
<line x1="46.2" y1="268.5" x2="46.2" y2="268.5" stroke="#595959" stroke-width="1"/>
<line x1="45.7" y1="521" x2="324.3" y2="521" stroke="#595959" stroke-width="1"/>
<line x1="43.7" y1="521" x2="46.2" y2="521" stroke="#595959" stroke-width="1"/>
<text x="39.9" y="523.55" font-size="9.7" text-anchor="end">0</text>
<line x1="43.7" y1="478.9" x2="46.2" y2="478.9" stroke="#595959" stroke-width="1"/>
<text x="40.7" y="481.45" font-size="9.7" text-anchor="end">20</text>
<line x1="43.7" y1="436.8" x2="46.2" y2="436.8" stroke="#595959" stroke-width="1"/>
<text x="41" y="439.35" font-size="9.7" text-anchor="end">40</text>
<line x1="43.7" y1="394.7" x2="46.2" y2="394.7" stroke="#595959" stroke-width="1"/>
<text x="40.7" y="397.25" font-size="9.7" text-anchor="end">60</text>
<line x1="43.7" y1="352.6" x2="46.2" y2="352.6" stroke="#595959" stroke-width="1"/>
<text x="40.7" y="355.15" font-size="9.7" text-anchor="end">80</text>
<line x1="43.7" y1="310.5" x2="46.2" y2="310.5" stroke="#595959" stroke-width="1"/>
<text x="41.2" y="313.05" font-size="9.7" text-anchor="end">100</text>
<line x1="43.7" y1="268.4" x2="46.2" y2="268.4" stroke="#595959" stroke-width="1"/>
<text x="41.7" y="270.95" font-size="9.7" text-anchor="end">120</text>
<line x1="71.42" y1="521" x2="71.42" y2="523.5" stroke="#595959" stroke-width="1"/>
<line x1="96.64" y1="521" x2="96.64" y2="523.5" stroke="#595959" stroke-width="1"/>
<line x1="121.86" y1="521" x2="121.86" y2="523.5" stroke="#595959" stroke-width="1"/>
<line x1="147.08" y1="521" x2="147.08" y2="523.5" stroke="#595959" stroke-width="1"/>
<line x1="172.3" y1="521" x2="172.3" y2="523.5" stroke="#595959" stroke-width="1"/>
<line x1="197.52" y1="521" x2="197.52" y2="523.5" stroke="#595959" stroke-width="1"/>
<line x1="222.74" y1="521" x2="222.74" y2="523.5" stroke="#595959" stroke-width="1"/>
<line x1="247.96" y1="521" x2="247.96" y2="523.5" stroke="#595959" stroke-width="1"/>
<line x1="273.18" y1="521" x2="273.18" y2="523.5" stroke="#595959" stroke-width="1"/>
<line x1="298.4" y1="521" x2="298.4" y2="523.5" stroke="#595959" stroke-width="1"/>
<line x1="323.62" y1="521" x2="323.62" y2="523.5" stroke="#595959" stroke-width="1"/>
<text x="67.15" y="530.25" font-size="8.2" text-anchor="end" transform="rotate(-28 67.15 530.25)">PU-1</text>
<text x="93.65" y="530.5" font-size="8.2" text-anchor="end" transform="rotate(-28 93.65 530.5)">PU-2</text>
<text x="119.1" y="529.8" font-size="8.2" text-anchor="end" transform="rotate(-28 119.1 529.8)">PU-3</text>
<text x="142.95" y="530.75" font-size="8.2" text-anchor="end" transform="rotate(-28 142.95 530.75)">PU-4</text>
<text x="168.75" y="530.3" font-size="8.2" text-anchor="end" transform="rotate(-28 168.75 530.3)">PU-5</text>
<text x="192" y="529.15" font-size="8.2" text-anchor="end" transform="rotate(-28 192 529.15)">PU-6</text>
<text x="219.4" y="530.55" font-size="8.2" text-anchor="end" transform="rotate(-28 219.4 530.55)">PU-7</text>
<text x="242.6" y="529.15" font-size="8.2" text-anchor="end" transform="rotate(-28 242.6 529.15)">PU-8</text>
<text x="269.35" y="531.2" font-size="8.2" text-anchor="end" transform="rotate(-28 269.35 531.2)">Impranil</text>
<text x="294.15" y="530.45" font-size="8.2" text-anchor="end" transform="rotate(-28 294.15 530.45)">2,4 TDA</text>
<text x="316.6" y="528.85" font-size="8.2" text-anchor="end" transform="rotate(-28 316.6 528.85)">Adipic</text>
<text x="323.45" y="536.6" font-size="8.2" text-anchor="end" transform="rotate(-28 323.45 536.6)">acid</text>
<text x="8.6" y="262.3" font-size="10.8" textLength="15.3" lengthAdjust="spacingAndGlyphs">(b)</text>
<text transform="translate(24 386.4) rotate(-90)" font-size="10.1" text-anchor="middle">Bioluminescence inhibition (%)</text>
<rect x="219.6" y="275.8" width="53" height="104.1" rx="3.5" ry="3.5" fill="#fff" stroke="#a6a6a6" stroke-width="0.9"/>
<rect x="221.8" y="280.5" width="4.4" height="4.3" fill="#cfe3c2"/>
<text x="229.2" y="285.3" font-size="7.45">3.9 µg ml</text>
<text x="264" y="281.4" font-size="5.2" text-anchor="middle">-</text>
<text x="267.15" y="281.4" font-size="5.2" text-anchor="middle">1</text>
<rect x="221.8" y="298.3" width="4.4" height="4.3" fill="#acd292"/>
<text x="229.2" y="303.4" font-size="7.45">7.8 µg ml</text>
<text x="262.95" y="299.4" font-size="5.2" text-anchor="middle">-</text>
<text x="266.55" y="299.4" font-size="5.2" text-anchor="middle">1</text>
<rect x="221.8" y="316.4" width="4.4" height="4.3" fill="#84c05c"/>
<text x="229.2" y="321.8" font-size="7.45">15.6 µg ml</text>
<text x="266.95" y="318" font-size="5.2" text-anchor="middle">-</text>
<text x="270.05" y="318" font-size="5.2" text-anchor="middle">1</text>
<rect x="221.8" y="334.6" width="4.4" height="4.3" fill="#68ad40"/>
<text x="229.2" y="339.7" font-size="7.45">31.2 µg ml</text>
<text x="267.4" y="336.2" font-size="5.2" text-anchor="middle">-</text>
<text x="270.5" y="336.2" font-size="5.2" text-anchor="middle">1</text>
<rect x="221.8" y="353" width="4.4" height="4.3" fill="#5a9f36"/>
<text x="229.2" y="357.9" font-size="7.45">62.5 µg ml</text>
<text x="266.25" y="354.4" font-size="5.2" text-anchor="middle">-</text>
<text x="269.15" y="354.4" font-size="5.2" text-anchor="middle">1</text>
<rect x="221.8" y="371" width="4.4" height="4.3" fill="#4a8a2d"/>
<text x="229.2" y="376.1" font-size="7.45">125 µg ml</text>
<text x="264.95" y="372.7" font-size="5.2" text-anchor="middle">-</text>
<text x="267.95" y="372.7" font-size="5.2" text-anchor="middle">1</text>
</svg>
</body></html>
